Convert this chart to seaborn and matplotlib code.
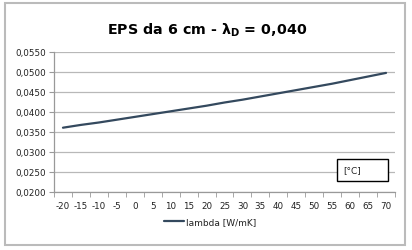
import pandas as pd
import matplotlib.pyplot as plt
import seaborn as sns
from matplotlib.patches import Rectangle

# dati
temperature = [-20, -15, -10, -5, 0, 5, 10, 15, 20, 25, 30, 35, 40, 45, 50, 55, 60, 65, 70]
lambda_vals = [0.0360, 0.0367, 0.0373, 0.0380, 0.0387, 0.0394, 0.0401, 0.0408, 0.0415,
               0.0423, 0.0430, 0.0438, 0.0446, 0.0454, 0.0462, 0.0470, 0.0479, 0.0488, 0.0497]
y_ticks = [0.0200, 0.0250, 0.0300, 0.0350, 0.0400, 0.0450, 0.0500, 0.0550]

df = pd.DataFrame({'T': temperature, 'lambda [W/mK]': lambda_vals})

sns.set_style("white")
plt.rcParams['font.family'] = ['DejaVu Sans']

fig = plt.figure(figsize=(4.12, 2.51), dpi=100)
ax = fig.add_axes([54 / 412, 1 - 192.7 / 251, 341 / 412, 140 / 251])

sns.lineplot(data=df, x='T', y='lambda [W/mK]', color='#34495e', linewidth=1.6,
             label='lambda [W/mK]', ax=ax, legend=False)

ax.set_xlim(-22.5, 72.5)
ax.set_ylim(0.0200, 0.0550)
ax.set_xticks(temperature)
ax.set_xticklabels([str(t) for t in temperature], fontsize=6.3, color='#222222')
ax.set_xticks([t - 2.5 for t in temperature] + [72.5], minor=True)
ax.tick_params(axis='x', which='major', length=0, pad=7)
ax.tick_params(axis='x', which='minor', length=3.5, color='#999999', direction='out', bottom=True)
ax.set_yticks(y_ticks)
ax.set_yticklabels([f'{v:.4f}'.replace('.', ',') for v in y_ticks], fontsize=6.3, color='#222222')
ax.tick_params(axis='y', length=3.5, color='#999999', direction='out', left=True, pad=2)
ax.yaxis.grid(True, color='#b8b8b8', linewidth=0.9)
ax.set_xlabel('')
ax.set_ylabel('')
for s in ['top', 'right']:
    ax.spines[s].set_visible(False)
for s in ['left', 'bottom']:
    ax.spines[s].set_color('#999999')
    ax.spines[s].set_linewidth(0.9)

fig.text(207 / 412, 1 - 30 / 251, r'EPS da 6 cm - λ$_\mathregular{D}$ = 0,040',
         ha='center', va='center', fontsize=10.3, fontweight='bold', color='black')

# legenda in basso
handles, labels = ax.get_legend_handles_labels()
fig.legend(handles, labels, loc='center', bbox_to_anchor=(210 / 412, 1 - 223 / 251),
           frameon=False, fontsize=6.5, handlelength=2.2, handletextpad=0.2,
           labelcolor='#222222')

# riquadro [°C]
fig.patches.append(Rectangle((337 / 412, 1 - 182 / 251), 51 / 412, 22 / 251,
                             transform=fig.transFigure, facecolor='white',
                             edgecolor='black', linewidth=1, zorder=5))
fig.text(352 / 412, 1 - 171 / 251, '[°C]', ha='center', va='center', fontsize=6.5,
         color='#222222', zorder=6)

# cornice esterna
fig.patches.append(Rectangle((5 / 412, 1 - 246 / 251), 400 / 412, 242 / 251,
                             transform=fig.transFigure, fill=False,
                             edgecolor='#bbbbbb', linewidth=1.5))

plt.savefig('out.png', dpi=100)
